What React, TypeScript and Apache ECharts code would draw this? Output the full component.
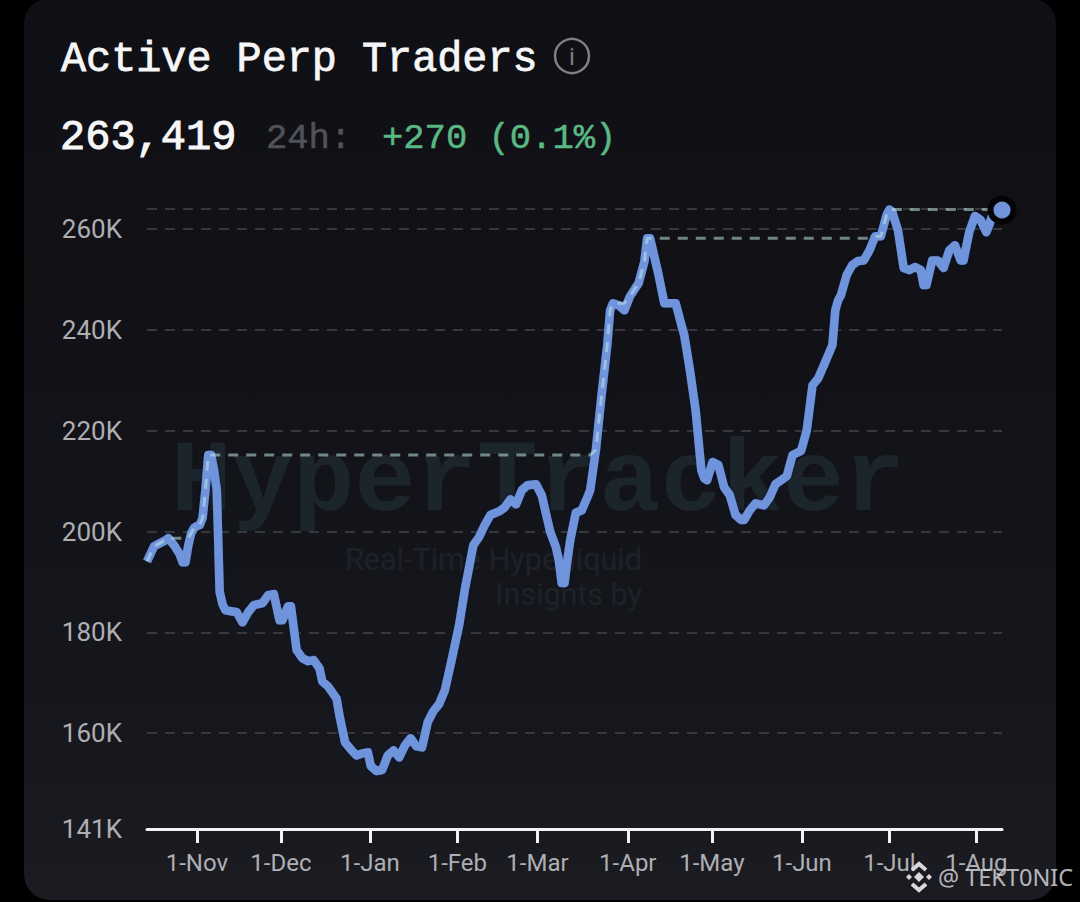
import React, { useEffect, useRef } from "react";
import * as echarts from "echarts";

// Days counted from 1 Nov 2024
const dayOffsets = [
  -17.5, -15, -13, -11, -10, -8, -6, -5, -4, -3, -2, -1, 0, 1, 2, 3, 4, 5, 6, 7, 8, 9, 10, 12, 14, 16, 18, 20, 23, 25, 27, 29, 30, 32, 33, 35, 37, 39, 41, 43, 44, 46, 49, 50, 52, 54, 56, 58, 60, 61, 63, 65, 67, 69, 71, 73, 75, 77, 79, 81, 83, 85, 87, 89, 92, 94, 97, 99, 101, 103, 106, 108, 110, 112, 114, 116, 119, 121, 124, 126, 127, 128, 129, 130, 131, 133, 135, 137, 138, 140, 142, 144, 145, 146, 148, 150, 152, 155, 157, 158, 159, 160, 162, 164, 166, 168, 170, 171, 173, 175, 177, 178, 179, 181, 183, 185, 187, 189, 191, 192, 194, 196, 199, 201, 203, 205, 207, 209, 212, 214, 216, 218, 220, 223, 224, 225, 226, 228, 230, 232, 234, 236, 238, 240, 242, 243, 244, 246, 248, 250, 252, 254, 255, 256, 258, 260, 262, 264, 266, 268, 269, 271, 273, 275, 277, 278, 279, 282.5,
];
// Active traders, in thousands
const traders = [
  194.1, 197.1, 197.7, 198.3, 198.7, 197.3, 195.5, 193.9, 193.9, 197.3, 199.7, 200.7, 201.1, 201.3, 202.7, 208.2, 215.2, 215.2, 212.2, 208.2, 188.0, 185.6, 184.4, 184.2, 184.0, 182.0, 184.0, 185.4, 185.8, 187.4, 187.6, 182.4, 182.4, 185.2, 185.2, 176.5, 174.9, 174.3, 174.5, 172.9, 170.3, 169.3, 166.9, 163.6, 158.2, 156.8, 155.6, 156.0, 156.2, 153.5, 152.5, 152.7, 155.6, 156.6, 155.2, 157.6, 159.0, 157.4, 157.2, 162.2, 164.4, 165.8, 168.5, 173.5, 181.4, 188.4, 197.3, 198.9, 201.3, 203.3, 204.0, 204.8, 206.4, 205.4, 208.2, 209.2, 209.4, 207.2, 199.9, 196.9, 194.3, 189.8, 189.8, 194.3, 198.3, 203.8, 204.2, 206.8, 208.2, 216.2, 227.1, 237.0, 243.9, 245.3, 244.9, 243.9, 246.7, 249.3, 253.5, 258.2, 258.2, 255.8, 250.9, 245.3, 245.3, 245.3, 241.0, 239.0, 232.0, 224.1, 212.2, 210.6, 210.2, 213.8, 213.2, 208.8, 207.2, 203.3, 202.3, 202.3, 204.2, 205.6, 205.2, 206.8, 209.4, 210.2, 211.0, 215.2, 216.0, 220.1, 229.0, 230.4, 233.0, 237.0, 243.9, 245.9, 246.9, 250.9, 252.9, 253.7, 253.8, 255.8, 258.6, 258.6, 262.8, 263.9, 263.4, 259.8, 252.3, 251.9, 252.5, 251.9, 248.9, 248.9, 253.8, 253.8, 252.3, 255.8, 256.8, 253.8, 253.8, 259.4, 262.6, 261.8, 259.4, 260.8, 262.6, 263.8,
];
const monthTickDays = [0, 29.5, 60.7, 91.4, 119.5, 151.2, 180.7, 212.3, 243, 273.5];
const monthTickLabels = ["1-Nov", "1-Dec", "1-Jan", "1-Feb", "1-Mar", "1-Apr", "1-May", "1-Jun", "1-Jul", "1-Aug"];
const yLabelValues = [141, 160, 180, 200, 220, 240, 260];
const yGridValues = [160, 180, 200, 220, 240, 260, 264];

const linePoints = dayOffsets.map((d, i) => [d, traders[i]]);
let highest = -Infinity;
const highPoints = dayOffsets.map((d, i) => {
  highest = Math.max(highest, traders[i]);
  return [d, highest];
});

const MONO = "'Liberation Mono', 'DejaVu Sans Mono', monospace";
const SANS = "Roboto, 'Noto Sans', sans-serif";
const LINE = "#7094dc";

export default function App() {
  const ref = useRef<HTMLDivElement>(null);
  useEffect(() => {
    document.body.style.margin = "0";
    document.body.style.background = "#000";
    const chart = echarts.init(ref.current!, undefined, { renderer: "svg" });
    chart.setOption({
      animation: false,
      backgroundColor: "#000",
      title: {
        text: "Active Perp Traders",
        left: 56,
        top: 34,
        textStyle: { fontFamily: MONO, fontSize: 41.8, fontWeight: 500, color: "#f6f6f7", textBorderColor: "#f6f6f7", textBorderWidth: 0.8 },
      },
      grid: { left: 147, right: 78, top: 209, bottom: 73 },
      xAxis: {
        type: "value",
        min: -17.5,
        max: 282.5,
        axisLine: { show: true, lineStyle: { color: "#f2f2f4", width: 3 } },
        axisTick: { show: true, length: 14, customValues: monthTickDays, lineStyle: { color: "#f2f2f4", width: 3 } },
        axisLabel: {
          customValues: monthTickDays,
          margin: 22,
          color: "#aeaeb3",
          fontFamily: SANS,
          fontSize: 24,
          hideOverlap: false,
          formatter: (v: number) => monthTickLabels[monthTickDays.indexOf(v)] ?? "",
        },
        splitLine: { show: false },
      },
      yAxis: {
        type: "value",
        min: 141,
        max: 264,
        axisLine: { show: false },
        axisTick: { show: false, customValues: yGridValues },
        axisLabel: {
          customValues: yLabelValues,
          margin: 25,
          color: "#aeaeb3",
          fontFamily: SANS,
          fontSize: 26,
          padding: [0, 0, 6, 0],
          formatter: (v: number) => `${v}K`,
        },
        splitLine: { show: true, lineStyle: { color: "#36383d", width: 2, type: [10, 8] } },
      },
      graphic: [
        {
          type: "rect",
          z: -10,
          silent: true,
          shape: { x: 24, y: -2, width: 1032, height: 902, r: 26 },
          style: {
            fill: new echarts.graphic.LinearGradient(0, 0, 0, 1, [
              { offset: 0, color: "#0f1015" },
              { offset: 0.33, color: "#111116" },
              { offset: 0.55, color: "#13141a" },
              { offset: 0.78, color: "#16171d" },
              { offset: 1, color: "#1b1c22" },
            ]),
          },
        },
        { type: "circle", z: 1, silent: true, shape: { cx: 572, cy: 56, r: 17 }, style: { fill: "none", stroke: "#7f7f84", lineWidth: 2.5 } },
        { type: "text", z: 1, silent: true, x: 572, y: 57, style: { text: "i", fill: "#7f7f84", font: `24px ${SANS}`, textAlign: "center", textVerticalAlign: "middle" } },
        { type: "text", z: 1, silent: true, x: 60, y: 138, style: { text: "263,419", fill: "#f6f6f7", stroke: "#f6f6f7", lineWidth: 1, font: `500 42px ${MONO}`, textVerticalAlign: "middle" } },
        { type: "text", z: 1, silent: true, x: 266, y: 138, style: { text: "24h:", fill: "#50525a", stroke: "#50525a", lineWidth: 0.5, font: `35.5px ${MONO}`, textVerticalAlign: "middle" } },
        { type: "text", z: 1, silent: true, x: 382, y: 138, style: { text: "+270 (0.1%)", fill: "#5ab884", stroke: "#5ab884", lineWidth: 0.5, font: `35.5px ${MONO}`, textVerticalAlign: "middle" } },
        { type: "text", z: 0, silent: true, x: 538, y: 483, style: { text: "HyperTracker", fill: "#1c252b", font: `bold 102px ${MONO}`, textAlign: "center", textVerticalAlign: "middle" } },
        { type: "text", z: 0, silent: true, x: 642, y: 559, style: { text: "Real-Time Hyperliquid", fill: "#1f2128", font: `30.5px ${SANS}`, textAlign: "right", textVerticalAlign: "middle" } },
        { type: "text", z: 0, silent: true, x: 642, y: 594, style: { text: "Insights by", fill: "#1f2128", font: `30.5px ${SANS}`, textAlign: "right", textVerticalAlign: "middle" } },
        // Binance-style mark next to the photo credit
        { type: "polygon", z: 20, silent: true, shape: { points: [[919, 872], [924, 877], [919, 882], [914, 877]] }, style: { fill: "#d8d8da" } },
        { type: "polygon", z: 20, silent: true, shape: { points: [[909, 874], [912, 877], [909, 880], [906, 877]] }, style: { fill: "#d8d8da" } },
        { type: "polygon", z: 20, silent: true, shape: { points: [[929, 874], [932, 877], [929, 880], [926, 877]] }, style: { fill: "#d8d8da" } },
        { type: "polyline", z: 20, silent: true, shape: { points: [[912, 870], [919, 864], [926, 870]] }, style: { fill: "none", stroke: "#d8d8da", lineWidth: 4 } },
        { type: "polyline", z: 20, silent: true, shape: { points: [[912, 884], [919, 890], [926, 884]] }, style: { fill: "none", stroke: "#d8d8da", lineWidth: 4 } },
        { type: "text", z: 20, silent: true, x: 938, y: 877, style: { text: "@ TEKT0NIC", fill: "rgba(225,225,228,0.8)", font: `23.5px 'Noto Sans', ${SANS}`, textVerticalAlign: "middle" } },
      ],
      series: [
        {
          type: "line",
          data: linePoints,
          showSymbol: false,
          clip: false,
          z: 3,
          lineStyle: { color: LINE, width: 8.5, join: "round", shadowColor: "rgba(8,20,60,0.9)", shadowBlur: 3 },
        },
        {
          type: "line",
          data: highPoints,
          showSymbol: false,
          clip: false,
          z: 4,
          lineStyle: { color: "rgba(190,230,225,0.55)", width: 3, type: [10, 8] },
        },
        {
          type: "scatter",
          data: [linePoints[linePoints.length - 1]],
          symbolSize: 23,
          clip: false,
          z: 5,
          itemStyle: { color: LINE, opacity: 1, borderColor: "#040406", borderWidth: 6 },
        },
      ],
    });
    return () => chart.dispose();
  }, []);
  return <div ref={ref} style={{ width: 1080, height: 902 }} />;
}
